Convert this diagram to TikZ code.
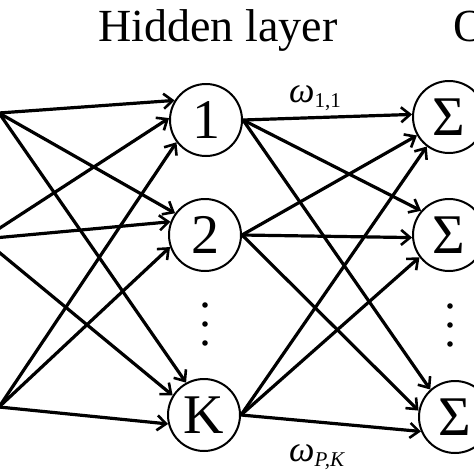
\documentclass[tikz,border=0pt]{standalone}
\usepackage{fontspec}
\setmainfont{Liberation Serif}
\usetikzlibrary{arrows.meta}
\tikzset{
  neuron/.style={circle, draw, line width=2pt, minimum size=72pt, inner sep=0pt,
    font=\fontsize{56}{58}\selectfont},
  conn/.style={line width=3.2pt, -{Straight Barb[length=9pt,width=15pt,line width=2.6pt]}},
  title/.style={font=\fontsize{46}{50}\selectfont, inner sep=0pt},
  wlabel/.style={inner sep=0pt},
  dotmark/.style={fill=black}
}
\newcommand{\wsym}{{\fontsize{36}{38}\selectfont\itshape ω}}
\newcommand{\wsub}[1]{{\fontsize{21}{23}\selectfont\raisebox{-5pt}{#1}}}
\begin{document}
\begin{tikzpicture}[x=1pt,y=-1pt]
\useasboundingbox (0,0) rectangle (474,474);
\clip (0,0) rectangle (474,474);

\node[title, anchor=base] (th) at (218,41) {Hidden layer};
\node[title, anchor=base west] (to) at (453,41) {Output layer};

\coordinate (in1) at (-1,113);
\coordinate (in2) at (-17,239);
\coordinate (in3) at (-1,407);

\node[neuron] (h1) at (206,120) {1};
\node[neuron] (h2) at (205,235) {2};
\node[neuron] (hK) at (204,415) {K};
\node[neuron] (o1) at (449,117) {Σ};
\node[neuron] (o2) at (449,235) {Σ};
\node[neuron] (o3) at (455,417) {Σ};

\foreach \y in {305,324,343} \fill[dotmark] (205,\y) circle[radius=2.8pt];
\foreach \y in {306,325,344} \fill[dotmark] (450,\y) circle[radius=2.8pt];

\draw[conn] (in1) -- (h1.148);
\draw[conn] (in1) -- (h2.144);
\draw[conn] (in1) -- (hK.119);
\draw[conn] (in2) -- (h1.177);
\draw[conn] (in2) -- (h2.159);
\draw[conn] (in2) -- (hK.148);
\draw[conn] (in3) -- (h1.217);
\draw[conn] (in3) -- (h2.199);
\draw[conn] (in3) -- (hK.194);

\draw[conn] (h1.east) -- (o1.176);
\draw[conn] (h1.east) -- (o2.139);
\draw[conn] (h1.east) -- (o3.132);
\draw[conn] (h2.east) -- (o1.210);
\draw[conn] (h2.east) -- (o2.184);
\draw[conn] (h2.east) -- (o3.170);
\draw[conn] (hK.east) -- (o1.233);
\draw[conn] (hK.east) -- (o2.217);
\draw[conn] (hK.east) -- (o3.203);

\node[wlabel, anchor=base west] (w11) at (289,102) {\wsym\wsub{1,1}};
\node[wlabel, anchor=base west] (wpk) at (289,461) {\wsym\wsub{\itshape P,K}};
\end{tikzpicture}
\end{document}
